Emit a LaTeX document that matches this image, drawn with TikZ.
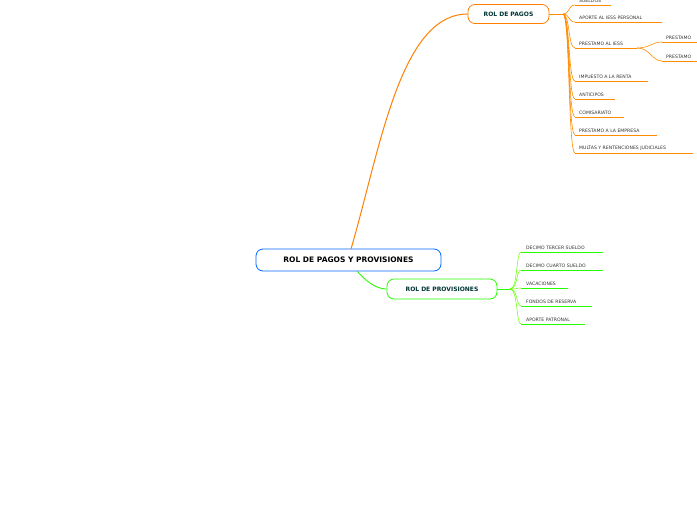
\documentclass[tikz,border=0pt]{standalone}
\usepackage{fontspec}
\setmainfont{DejaVu Sans}
\begin{document}
\begin{tikzpicture}[x=1pt,y=-1pt,
 leaf/.style={anchor=south west,inner sep=0pt,font=\fontsize{4.6}{5}\selectfont,text=black!80},
 box/.style={draw,rounded corners=7pt,line width=0.8pt,font=\bfseries,text=teal!40!black},
 ob/.style={orange!90!yellow,line width=0.9pt},
 gb/.style={green!80!lime,line width=0.9pt}]
\useasboundingbox (0,0) rectangle (697,520);
\clip (0,0) rectangle (697,520);
\node[box,draw=blue!60!cyan,text=black,minimum width=185pt,minimum height=22pt,font=\bfseries\fontsize{7.5}{8}\selectfont] (root) at (348.5,260) {ROL DE PAGOS Y PROVISIONES};
\node[box,draw=orange,minimum width=81pt,minimum height=19pt,font=\bfseries\fontsize{6}{7}\selectfont] (pag) at (508.5,14) {ROL DE PAGOS};
\node[box,draw=green!80!lime,minimum width=110pt,minimum height=20pt,font=\bfseries\fontsize{6}{7}\selectfont] (prov) at (442,289) {ROL DE PROVISIONES};
\draw[orange,line width=1pt] (351,249) .. controls (380,150) and (400,14) .. (pag.west);
\draw[gb] (357,271) .. controls (365,280) and (375,289) .. (prov.west);
% pagos items
\coordinate (ph) at (563,14);
\draw[ob] (pag.east) -- (ph);
\foreach \y/\e/\t/\n in {5/611/SUELDOS/a,22/662/APORTE AL IESS PERSONAL/b,48/637/PRESTAMO AL IESS/c,81/648/IMPUESTO A LA RENTA/d,99/615/ANTICIPOS/e,117/624/COMISARIATO/f,135/657/PRESTAMO A LA EMPRESA/g,153/693/MULTAS Y RENTENCIONES JUDICIALES/h}{
 \coordinate (s\n) at (575,\y);
 \draw[ob,line width=0.6pt] (ph) .. controls (570,14) and (568,\y) .. (s\n);
 \draw[ob] (s\n) -- (\e,\y);
 \node[leaf] (t\n) at (579,\y-2.5) {\t};
}
\foreach \y/\n in {42/p1,61/p2}{
 \coordinate (s\n) at (662,\y);
 \draw[ob,line width=0.6pt] (637,48) .. controls (650,48) and (652,\y) .. (s\n);
 \draw[ob] (s\n) -- (697,\y);
 \node[leaf] (t\n) at (666,\y-2.5) {PRESTAMO};
}
% provisiones items
\coordinate (gh) at (510,289);
\draw[gb] (prov.east) -- (gh);
\foreach \y/\e/\t/\n in {252/603/DECIMO TERCER SUELDO/a,270/603/DECIMO CUARTO SUELDO/b,288/568/VACACIONES/c,306/592/FONDOS DE RESERVA/d,324/585/APORTE PATRONAL/e}{
 \coordinate (q\n) at (521,\y);
 \draw[gb,line width=0.5pt,green!50!lime] (gh) .. controls (518,289) and (516,\y) .. (q\n);
 \draw[gb] (q\n) -- (\e,\y);
 \node[leaf] (u\n) at (526,\y-2.5) {\t};
}
\end{tikzpicture}
\end{document}
